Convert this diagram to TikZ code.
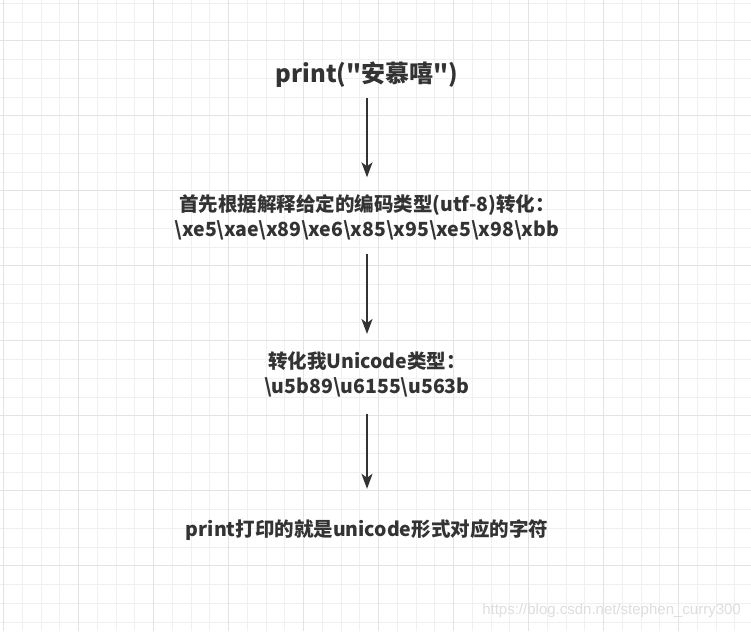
\documentclass[tikz,border=0pt]{standalone}
\usepackage{fontspec}
\newfontfamily\cjkfont{Noto Sans CJK SC}
\newfontfamily\wmfont{Liberation Sans}
\usetikzlibrary{arrows.meta,positioning}
\definecolor{ink}{HTML}{333333}
\definecolor{gridminor}{HTML}{F0F0F0}
\definecolor{gridmajor}{HTML}{E3E3E3}
\newcommand{\bsl}{\textbackslash}

\begin{document}
\begin{tikzpicture}[x=1pt, y=-1pt,
    txtbox/.style={text=ink, font=\cjkfont\bfseries\fontsize{19.5}{25}\selectfont, align=center, inner sep=0pt},
    flow/.style={draw=ink, line width=2pt, -{Stealth[length=15pt, width=11pt, inset=4pt]}}]
    \useasboundingbox (0,0) rectangle (751,631) ;
    \fill [white] (0,0) rectangle (751,631) ;
    % grid
    \foreach \k in {0,...,39} \draw [gridminor, line width=1pt] (3.5+18.75*\k,0) -- ++(0,631) ;
    \foreach \k in {0,...,33} \draw [gridminor, line width=1pt] (0,3.3+18.75*\k) -- ++(751,0) ;
    \foreach \k in {0,...,9} \draw [gridmajor, line width=1pt] (3.5+75*\k,0) -- ++(0,631) ;
    \foreach \k in {0,...,7} \draw [gridmajor, line width=1pt] (0,40.8+75*\k) -- ++(751,0) ;

    \node [txtbox, font=\cjkfont\bfseries\fontsize{24}{28}\selectfont, minimum height=46.6pt] (call) at (367,75) {print("安慕嘻")} ;
    \node [txtbox, minimum height=80pt] (utf) at (367,217.5) {首先根据解释给定的编码类型(utf-8)转化：\\\bsl xe5\bsl xae\bsl x89\bsl xe6\bsl x85\bsl x95\bsl xe5\bsl x98\bsl xbb} ;
    \node [txtbox, minimum height=80pt] (uni) at (367,374.2) {转化我Unicode类型：\\\bsl u5b89\bsl u6155\bsl u563b} ;
    \node [txtbox, minimum height=82pt] (out) at (367,530) {print打印的就是unicode形式对应的字符} ;

    \draw [flow] (call) -- (utf) ;
    \draw [flow, shorten <=-4pt] (utf) -- (uni) ;
    \draw [flow] (uni) -- (out) ;

    \node [font=\wmfont\fontsize{15}{15}\selectfont, text=black!13, anchor=east, inner sep=0pt] (mark) at (741,611) {https://blog.csdn.net/stephen\_curry300} ;
\end{tikzpicture}
\end{document}
